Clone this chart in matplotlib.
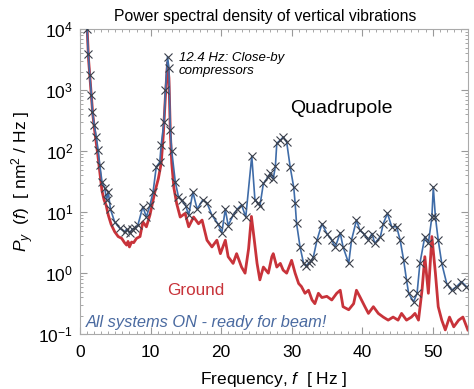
import matplotlib
matplotlib.use("Agg")
import matplotlib.pyplot as plt
import numpy as np
from matplotlib.ticker import LogLocator, MultipleLocator, NullFormatter

plt.rcParams['font.family'] = ['Liberation Sans', 'DejaVu Sans']
plt.rcParams['mathtext.fontset'] = 'custom'
plt.rcParams['mathtext.rm'] = 'Liberation Sans'
plt.rcParams['mathtext.it'] = 'Liberation Sans:italic'

# Quadrupole PSD (frequency in Hz, log10 of nm^2/Hz)
quad_freq = [1.0, 1.15, 1.37, 1.6, 1.75, 2.0, 2.3, 2.55, 2.8, 3.1, 3.5, 3.75, 4.0, 4.3,
             4.9, 5.6, 6.3, 6.6, 7.05, 7.4, 7.8, 8.2, 8.9, 9.4, 9.9, 10.35, 10.8, 11.3,
             11.5, 11.9, 12.1, 12.4, 12.6, 12.8, 13.0, 13.5, 13.95, 14.4, 15.0, 15.4,
             16.0, 16.6, 17.4, 18.0, 18.7, 19.6, 20.1, 20.6, 21.0, 21.7, 22.3, 22.9,
             23.5, 24.35, 24.8, 25.2, 25.5, 26.0, 26.7, 27.0, 27.4, 27.7, 27.9, 28.4,
             28.8, 29.3, 29.8, 30.3, 30.5, 30.7, 31.2, 31.7, 32.0, 32.4, 32.8, 33.1,
             33.6, 34.3, 35.0, 35.7, 36.2, 36.9, 37.3, 38.1, 38.5, 39.2, 39.7, 40.2,
             40.9, 41.4, 41.8, 42.6, 43.0, 43.6, 44.2, 44.9, 45.4, 45.9, 46.3, 46.6,
             47.3, 47.8, 48.2, 48.9, 49.4, 49.9, 50.1, 50.4, 50.8, 51.3, 52.0, 52.7,
             53.4, 54.1, 54.8]
quad_log = [4.0, 3.6, 3.25, 2.92, 2.64, 2.43, 2.23, 2.02, 1.77, 1.5, 1.39, 1.2, 1.33, 1.05,
            0.84, 0.74, 0.68, 0.72, 0.66, 0.72, 0.74, 0.79, 1.09, 0.92, 1.11, 1.33, 1.74, 1.82,
            2.1, 2.48, 3.0, 3.55, 3.36, 2.34, 2.0, 1.5, 1.25, 1.2, 1.1, 0.95,
            1.33, 1.05, 1.2, 1.15, 0.95, 0.8, 0.66, 1.05, 0.78, 0.95, 1.05, 1.12,
            0.92, 1.92, 1.2, 1.15, 1.1, 1.47, 1.58, 1.64, 1.55, 1.75, 2.13, 2.18,
            2.23, 2.15, 1.74, 1.41, 1.15, 0.82, 0.43, 0.16, 0.12, 0.16, 0.2, 0.27,
            0.54, 0.81, 0.65, 0.54, 0.43, 0.66, 0.43, 0.16, 0.54, 0.87, 0.70, 0.65,
            0.54, 0.65, 0.49, 0.6, 0.81, 0.98, 0.76, 0.76, 0.54, 0.21, -0.11, -0.33,
            -0.47, -0.33, 0.16, 0.6, 0.49, 0.92, 1.41, 0.92, 0.54, 0.16, -0.17, -0.28,
            -0.22, -0.14, -0.22]

# Ground PSD
ground_freq = [1.0, 1.2, 1.5, 1.8, 2.1, 2.5, 2.8, 3.1, 3.4, 3.7, 4.0, 4.4, 4.9, 5.4, 5.9,
               6.3, 6.6, 6.8, 7.0, 7.3, 7.6, 8.0, 8.5, 8.9, 9.4, 9.9, 10.6, 11.1, 11.5,
               11.8, 12.1, 12.4, 12.6, 12.8, 13.0, 13.3, 13.7, 14.2, 14.9, 15.4, 16.1,
               16.8, 17.3, 18.0, 18.7, 19.4, 19.9, 20.6, 21.0, 21.7, 22.2, 22.9, 23.4,
               23.9, 24.3, 24.7, 25.1, 25.5, 26.0, 26.7, 27.2, 27.4, 27.9, 28.4, 28.8,
               29.3, 30.0, 30.5, 31.0, 31.4, 31.9, 32.4, 32.9, 33.3, 33.8, 34.3, 35.0,
               35.7, 36.4, 36.9, 37.3, 38.1, 38.8, 39.2, 39.7, 40.4, 40.9, 41.6, 42.3,
               43.0, 43.7, 44.4, 45.1, 45.6, 46.3, 47.0, 47.5, 48.0, 48.5, 48.9, 49.4,
               49.9, 50.4, 50.8, 51.3, 51.8, 52.4, 53.0, 53.7, 54.3, 55.0]
ground_log = [4.0, 3.5, 3.05, 2.6, 2.3, 1.95, 1.65, 1.35, 1.2, 1.11, 0.95, 0.8, 0.68, 0.6, 0.57,
              0.5, 0.46, 0.52, 0.43, 0.51, 0.5, 0.57, 0.6, 0.84, 0.76, 0.95, 1.33, 1.55, 1.8,
              2.26, 2.9, 3.45, 3.2, 2.3, 1.8, 1.4, 1.14, 0.92, 0.98, 0.76, 0.92,
              0.81, 0.87, 0.54, 0.43, 0.54, 0.32, 0.54, 0.27, 0.16, 0.32, 0.1, 0.0,
              0.4, 0.93, 0.55, 0.16, -0.11, 0.1, 0.0, 0.27, 0.32, 0.1, 0.16, 0.05,
              0.0, 0.21, 0.0, -0.17, -0.22, -0.33, -0.28, -0.44, -0.5, -0.33, -0.4, -0.38,
              -0.44, -0.33, -0.28, -0.55, -0.6, -0.5, -0.28, -0.39, -0.55, -0.66, -0.55, -0.66,
              -0.72, -0.77, -0.72, -0.77, -0.66, -0.77, -0.72, -0.66, -0.77, -0.28, 0.27, -0.33,
              0.6, 0.0, -0.55, -0.77, -0.93, -0.72, -0.88, -0.77, -0.72, -0.93]

quad_psd = 10.0 ** np.array(quad_log)
ground_psd = 10.0 ** np.array(ground_log)

fig = plt.figure(figsize=(4.74, 3.89), dpi=100)
ax = fig.add_axes([0.169, 0.141, 0.818, 0.784])

ax.plot(ground_freq, ground_psd, color='#c8333a', lw=2.0, zorder=2)
ax.plot(quad_freq, quad_psd, color='#3f6ca8', lw=1.2, marker='x', ms=6,
        mec='#3a3f4a', mew=0.8, zorder=3)

ax.set_yscale('log')
ax.set_xlim(0, 55)
ax.set_ylim(0.1, 1e4)

ax.xaxis.set_major_locator(MultipleLocator(10))
ax.xaxis.set_minor_locator(MultipleLocator(1))
ax.yaxis.set_major_locator(LogLocator(base=10, numticks=10))
ax.yaxis.set_minor_locator(LogLocator(base=10, subs=np.arange(2, 10), numticks=20))
ax.yaxis.set_minor_formatter(NullFormatter())
ax.tick_params(which='both', direction='in', top=True, right=True, color='#999999')
ax.tick_params(which='major', length=5, labelsize=12.5)
ax.tick_params(axis='x', which='major', pad=8)
ax.tick_params(axis='y', which='major', pad=5)
ax.tick_params(which='minor', length=2.5)
for sp in ax.spines.values():
    sp.set_color('#aaaaaa')

ax.set_xlabel('Frequency, $f$  [ Hz ]', fontsize=12.5, labelpad=7)
ax.set_ylabel('$P_y$  ($f$)  [ nm$^2$ / Hz ]', fontsize=12.5, labelpad=2)
fig.text(265 / 474, 1 - 16 / 389, 'Power spectral density of vertical vibrations',
         fontsize=11.3, ha='center', va='center')

ax.text(14.0, 2.6e3, '12.4 Hz: Close-by\ncompressors', fontsize=9.5, style='italic',
        va='center', ha='left', linespacing=1.1)
ax.text(29.8, 500, 'Quadrupole', fontsize=14, ha='left', va='center')
ax.text(12.3, 0.52, 'Ground', fontsize=12.3, color='#c8333a', ha='left', va='center')
ax.text(0.8, 0.155, 'All systems ON - ready for beam!', fontsize=11.8, style='italic',
        color='#4a6aa0', ha='left', va='center')

plt.savefig('out.png', dpi=100)
